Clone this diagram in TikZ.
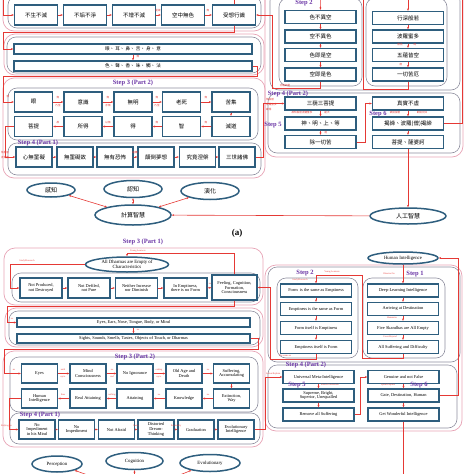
\documentclass[tikz,border=0pt]{standalone}
\usepackage{fontspec}
\setmainfont{Liberation Serif}
\newfontfamily\cjk{Noto Sans CJK TC}
\usetikzlibrary{arrows.meta,shadows,shapes.geometric}
\definecolor{boxblue}{HTML}{2E5E7E}
\definecolor{linkred}{HTML}{E53935}
\definecolor{steppurple}{HTML}{6A35A5}
\definecolor{framegrey}{HTML}{8E8E9E}
\definecolor{framepink}{HTML}{E7A3B5}

\begin{document}
\begin{tikzpicture}
		[x=1pt,y=-1pt,
		box/.style={draw=boxblue,line width=1.4pt,fill=white,inner sep=.5pt,align=center,
			font=\cjk\fontsize{5.5}{6.5}\selectfont,
			drop shadow={shadow xshift=.9pt,shadow yshift=-.9pt,fill=black!50}},
		ebox/.style={box,font=\fontsize{4.4}{4.8}\selectfont},
		wa/.style={minimum width=43,minimum height=20},
		wb/.style={minimum width=38,minimum height=20},
		wc/.style={minimum width=36,minimum height=20},
		wd/.style={minimum width=71,minimum height=13},
		we/.style={minimum width=36,minimum height=19},
		wl/.style={minimum width=238,minimum height=10},
		oval/.style={ellipse,draw=boxblue,line width=1.5pt,fill=white,inner sep=0pt,
			font=\cjk\fontsize{6}{7}\selectfont},
		eoval/.style={oval,align=center,font=\fontsize{4.8}{5.2}\selectfont},
		gframe/.style={draw=framegrey,line width=.6pt,rounded corners=9pt},
		pframe/.style={draw=framepink,line width=.7pt,rounded corners=11pt},
		link/.style={draw=linkred,line width=.6pt,-{Stealth[length=2.4pt,width=2pt]}},
		both/.style={{Stealth[length=2.4pt,width=2pt]}-{Stealth[length=2.4pt,width=2pt]}},
		steplab/.style={text=steppurple,font=\bfseries\fontsize{6.5}{7}\selectfont,inner sep=0pt},
		tag/.style={text=linkred,font=\fontsize{2.4}{2.8}\selectfont,inner sep=0pt},
		ctag/.style={tag,font=\cjk\fontsize{2.6}{3}\selectfont}]
		\useasboundingbox (0,0) rectangle (474,474);
		
		% ---------- (a) frames
		\draw[pframe] (3,-30) rectangle (265,31);
		\draw[gframe] (8,-4) rectangle (261,28);
		\draw[pframe] (4,34) rectangle (264,75);
		\draw[gframe] (7,37) rectangle (261,73);
		\draw[pframe] (3,78) rectangle (265,178);
		\draw[gframe] (8,88) rectangle (258,140);
		\draw[gframe] (8,143) rectangle (261,175);
		\draw[pframe] (265,-30) rectangle (463,157);
		\draw[gframe] (270,-8) rectangle (460,90);
		\draw[gframe] (279,-2) rectangle (362,86);
		\draw[gframe] (366,-2) rectangle (447,86);
		\draw[gframe] (268,93) rectangle (460,153);
		
		% ---------- (a) nodes
		\node[box,wa] (r1) at (36,15) {不生不滅};
		\node[box,wa] (r2) at (85,15) {不垢不淨};
		\node[box,wa] (r3) at (134,15) {不增不減};
		\node[box,wa] (r4) at (183,15) {空中無色};
		\node[box,wa] (r5) at (234,15) {受想行識};
		
		\node[box,wl,font=\cjk\fontsize{4.6}{5}\selectfont] (e1) at (133,49) {眼、 耳、 鼻、 舌、 身、 意};
		\node[box,wl,font=\cjk\fontsize{4.6}{5}\selectfont] (e2) at (133,66) {色、 聲、 香、 味、 觸、 法};
		
		\node[box,wb] (p1) at (33.5,102) {眼};
		\node[box,wb] (p2) at (83,102) {意識};
		\node[box,wb] (p3) at (133,102) {無明};
		\node[box,wb] (p4) at (181.5,102) {老死};
		\node[box,wb] (p5) at (231,102) {苦集};
		\node[box,wb] (q1) at (33.5,126.5) {菩提};
		\node[box,wb] (q2) at (83,126.5) {所得};
		\node[box,wb] (q3) at (133,126.5) {得};
		\node[box,wb] (q4) at (181.5,126.5) {智};
		\node[box,wb] (q5) at (231,126.5) {滅道};
		
		\node[box,wc] (s1) at (34,157) {心無罣礙};
		\node[box,wc] (s2) at (75,157) {無罣礙故};
		\node[box,wc] (s3) at (115,157) {無有恐怖};
		\node[box,wc] (s4) at (156,157) {顛倒夢想};
		\node[box,wc] (s5) at (197.5,157) {究竟涅槃};
		\node[box,wc] (s6) at (237,157) {三世諸佛};
		
		\node[box,wd] (t1) at (320.5,17) {色不異空};
		\node[box,wd] (t2) at (320.5,36.5) {空不異色};
		\node[box,wd] (t3) at (320.5,55) {色即是空};
		\node[box,wd] (t4) at (320.5,74.5) {空即是色};
		\node[box,wd] (u1) at (408,18) {行深般若};
		\node[box,wd] (u2) at (408,36.5) {波羅蜜多};
		\node[box,wd] (u3) at (408,55) {五蘊皆空};
		\node[box,wd] (u4) at (408,74.5) {一切苦厄};
		
		\node[box,wd] (v1) at (320.5,103.5) {三藐三菩提};
		\node[box,wd] (v2) at (320.5,123.5) {神、明、上、等};
		\node[box,wd] (v3) at (320.5,142) {除一切苦};
		\node[box,wd] (w1) at (408,103.5) {真實不虛};
		\node[box,wd] (w2) at (408,123.5) {揭諦、波羅(僧)揭諦};
		\node[box,wd] (w3) at (408,142) {菩提、薩婆訶};
		
		\node[oval,minimum width=48,minimum height=14] (o1) at (51,190) {感知};
		\node[oval,minimum width=58,minimum height=17] (o2) at (133,189) {認知};
		\node[oval,minimum width=58,minimum height=17] (o3) at (210,191) {演化};
		\node[oval,minimum width=76,minimum height=20] (o0) at (133,215) {計算智慧};
		\node[oval,minimum width=76,minimum height=16] (ai) at (408,216) {人工智慧};
		
		\node[steplab] at (304,3) {Step 2};
		\node[steplab] at (133,83) {Step 3 (Part 2)};
		\node[steplab] at (38,143) {Step 4 (Part 1)};
		\node[steplab] at (288,94) {Step 4 (Part 2)};
		\node[steplab] at (273,125) {Step 5};
		\node[steplab] at (378,114) {Step 6};
		\node[font=\bfseries\fontsize{9}{10}\selectfont] at (237,233) {(a)};
		
		% ---------- (a) connectors
		\coordinate (inA) at (3,-20);
		\coordinate (upA) at (234,-20);
		\coordinate (hiA) at (408,-20);
		\coordinate (slA) at (320,-20);
		\coordinate (hiR) at (462,-20);
		\draw[link] (inA) |- (r1);
		\draw[link] (r5.north) -- (upA);
		\draw[link] (r1) -- (r2);
		\draw[link] (r2) -- (r3);
		\draw[link] (r3) -- (r4);
		\draw[link] (r4) -- (r5);
		\draw[link] (r5.south) -- ++(0,7) -| (3,49) -- (e1.west);
		\draw[link] (e1) -- (e2);
		\draw[link] (e2.east) -| (257,76) -- (3,76) |- (p1.west);
		\draw[link] (p1) -- (p2);
		\draw[link] (p2) -- (p3);
		\draw[link] (p3) -- (p4);
		\draw[link] (p4) -- (p5);
		\draw[link] (p5) -- (q5);
		\draw[link] (q5) -- (q4);
		\draw[link] (q4) -- (q3);
		\draw[link] (q3) -- (q2);
		\draw[link] (q2) -- (q1);
		\draw[link] (q1.west) -- (5,126.5) |- (s1.west);
		\draw[link] (s1) -- (s2);
		\draw[link] (s2) -- (s3);
		\draw[link] (s3) -- (s4);
		\draw[link] (s4) -- (s5);
		\draw[link] (s5) -- (s6);
		\draw[link] (s6.east) -- (263,157) |- (v1.west);
		\draw[link] (v1) -- (v2);
		\draw[link] (v2) -- (v3);
		\draw[link] (v3.east) -- (365,142) |- (w1.west);
		\draw[link] (w1) -- (w2);
		\draw[link] (w2) -- (w3);
		\draw[link] (w2.east) -| (hiR);
		\draw[link] (w3) -- (ai);
		\draw[link] (hiA) -- (u1.north);
		\draw[link] (u1) -- (u2);
		\draw[link] (u2) -- (u3);
		\draw[link] (u3) -- (u4);
		\draw[link,-] (u4.south) -- ++(0,8) -| (363,-20);
		\draw[link] (slA) -- (t1.north);
		\draw[link] (t1) -- (t2);
		\draw[link] (t2) -- (t3);
		\draw[link] (t3) -- (t4);
		\draw[link] (t4.south) -- ++(0,7) -| (272,15) -- (r5.east);
		\draw[link] (ai) -- (o0);
		\draw[link,both] (o0) -- (o1);
		\draw[link,both] (o0) -- (o2);
		\draw[link,both] (o0) -- (o3);
		
		\node[ctag] at (158,11) {是故};
		\node[ctag] at (208,11) {無};
		\node[ctag] at (138,57) {無};
		\node[ctag] at (8,97) {無};
		\node[ctag] at (58,98) {無};
		\node[ctag] at (58,106) {乃至};
		\node[ctag] at (108,98) {無};
		\node[ctag] at (108,106) {亦無};
		\node[ctag] at (157,98) {無};
		\node[ctag] at (157,106) {乃至};
		\node[ctag] at (206,98) {無};
		\node[ctag] at (206,123) {無};
		\node[ctag] at (157,123) {無};
		\node[ctag] at (108,123) {以無};
		\node[ctag] at (58,123) {故};
		\node[ctag,anchor=west] at (1,153) {依般若};
		\node[ctag,anchor=west] at (1,158) {波羅蜜};
		\node[ctag] at (135,153) {遠離};
		\node[ctag] at (285,86) {亦復如是};
		\node[ctag] at (400,45) {照見};
		\node[ctag] at (415,45) {時};
		\node[ctag] at (401,65) {度};
		\node[ctag,anchor=west] at (266,100) {依般若};
		\node[ctag,anchor=west] at (266,105) {波羅蜜多};
		\node[ctag,anchor=west] at (266,110) {故得};
		\node[ctag] at (302,113) {故知般若波羅蜜多};
		\node[ctag] at (327,113) {是大};
		\node[ctag] at (326,133) {能};
		\node[ctag] at (395,113) {故說般若};
		\node[ctag] at (422,113) {即說咒曰};
		
		% ---------- (b) frames
		\draw[pframe] (4,248) rectangle (263,305);
		\draw[gframe] (12,273) rectangle (260,302);
		\draw[pframe] (5,308) rectangle (263,347);
		\draw[gframe] (9,311) rectangle (260,345);
		\draw[pframe] (3,351) rectangle (263,447);
		\draw[gframe] (10,357) rectangle (258,412);
		\draw[gframe] (10,413) rectangle (260,444);
		\draw[pframe] (265,265) rectangle (462,431);
		\draw[gframe] (268,267) rectangle (460,362);
		\draw[gframe] (277,278) rectangle (358,358);
		\draw[gframe] (363,278) rectangle (445,358);
		\draw[gframe] (268,365) rectangle (457,428);
		
		% ---------- (b) nodes
		\node[eoval,minimum width=83,minimum height=15] (b0) at (127,264.5) {All Dharmas are Empty of\\Characteristics};
		\node[ebox,minimum width=42,minimum height=20] (b1) at (41,288) {Not Produced,\\not Destroyed};
		\node[ebox,minimum width=42,minimum height=20] (b2) at (89,288) {Not Defiled,\\not Pure};
		\node[ebox,minimum width=42,minimum height=20] (b3) at (136.5,288) {Neither Increase\\nor Diminish};
		\node[ebox,minimum width=43,minimum height=20] (b4) at (185.5,288) {In Emptiness,\\there is no Form};
		\node[ebox,minimum width=45,minimum height=25] (b5) at (234.5,287.5) {Feeling, Cognition,\\Formation,\\Consciousness};
		\node[ebox,minimum width=233,minimum height=9] (f1) at (133.5,322.5) {Eyes, Ears, Nose, Tongue, Body, or Mind};
		\node[ebox,minimum width=233,minimum height=9] (f2) at (133.5,338.5) {Sights, Sounds, Smells, Tastes, Objects of Touch, or Dharmas};
		
		\node[ebox,we] (g1) at (39.5,373.5) {Eyes};
		\node[ebox,we] (g2) at (88,373.5) {Mind\\Consciousness};
		\node[ebox,we] (g3) at (135,373.5) {No Ignorance};
		\node[ebox,we] (g4) at (184,373.5) {Old Age and\\Death};
		\node[ebox,we] (g5) at (231.5,373.5) {Suffering,\\Accumulating};
		\node[ebox,we] (h1) at (39.5,398.5) {Human\\Intelligence};
		\node[ebox,we] (h2) at (88,398.5) {Real Attaining};
		\node[ebox,we] (h3) at (135,398.5) {Attaining};
		\node[ebox,we] (h4) at (184,398.5) {Knowledge};
		\node[ebox,we] (h5) at (231.5,398.5) {Extinction,\\Way};
		
		\node[ebox,we] (k1) at (37,429.5) {No\\Impediment\\in his Mind};
		\node[ebox,we] (k2) at (76.5,429.5) {No\\Impediment};
		\node[ebox,we] (k3) at (116.5,429.5) {Not Afraid};
		\node[ebox,we] (k4) at (156,429.5) {Distorted\\Dream-\\Thinking};
		\node[ebox,we] (k5) at (196,429.5) {Graduation};
		\node[ebox,we] (k6) at (236,429.5) {Evolutionary\\Intelligence};
		
		\node[eoval,minimum width=70,minimum height=12] (hb) at (403,258) {Human Intelligence};
		\node[ebox,wd] (m1) at (316,290.5) {Form ~is the same as Emptiness};
		\node[ebox,wd] (m2) at (316,309) {Emptiness is the same as Form};
		\node[ebox,wd] (m3) at (316,328) {Form itself is Emptiness};
		\node[ebox,wd] (m4) at (316,347) {Emptiness itself is Form};
		\node[ebox,wd] (n1) at (403,290.5) {Deep-Learning Intelligence};
		\node[ebox,wd] (n2) at (403,309) {Arriving at Destination};
		\node[ebox,wd] (n3) at (403,328) {Five Skandhas are All Empty};
		\node[ebox,wd] (n4) at (403,347) {All Suffering and Difficulty};
		
		\node[ebox,wd] (x1) at (318.5,377) {Universal Meta-Intelligence};
		\node[ebox,wd] (x2) at (318.5,395.5) {Supreme, Bright,\\Superior, Unequalled};
		\node[ebox,wd] (x3) at (318.5,414.5) {Remove all Suffering};
		\node[ebox,wd] (z1) at (403.5,377) {Genuine and not False};
		\node[ebox,wd] (z2) at (403.5,395.5) {Gate, Destination, Human};
		\node[ebox,wd] (z3) at (403.5,414.5) {Get Wonderful Intelligence};
		
		\node[eoval,minimum width=50,minimum height=16] (c1) at (57,464) {Perception};
		\node[eoval,minimum width=57,minimum height=17] (c2) at (134.5,461) {Cognition};
		\node[eoval,minimum width=60,minimum height=17] (c3) at (210,463) {Evolutionary};
		
		\node[steplab] at (143,242) {Step 3 (Part 1)};
		\node[steplab] at (135,357) {Step 3 (Part 2)};
		\node[steplab] at (40,415) {Step 4 (Part 1)};
		\node[steplab] at (305,273) {Step 2};
		\node[steplab] at (415,274) {Step 1};
		\node[steplab] at (306,365) {Step 4 (Part 2)};
		\node[steplab] at (297,385) {Step 5};
		\node[steplab] at (419,385) {Step 6};
		
		% ---------- (b) connectors
		\coordinate (cb1) at (96,478);
		\coordinate (cb2) at (134.5,478);
		\coordinate (cb3) at (172,478);
		\coordinate (ab) at (403.5,480);
		\draw[link] (b0.west) -- (10,264.5) |- (b1.west);
		\draw[link] (b5.north) |- (127,253) -- (b0.north);
		\draw[link] (b1) -- (b2);
		\draw[link] (b2) -- (b3);
		\draw[link] (b3) -- (b4);
		\draw[link] (b4) -- (b5);
		\draw[link] (b5.south) -- ++(0,5.5) -| (7,322.5) -- (f1.west);
		\draw[link] (f1) -- (f2);
		\draw[link] (f2.east) -| (258,349) -| (4,373.5) -- (g1.west);
		\draw[link] (g1) -- (g2);
		\draw[link] (g2) -- (g3);
		\draw[link] (g3) -- (g4);
		\draw[link] (g4) -- (g5);
		\draw[link] (g5) -- (h5);
		\draw[link] (h5) -- (h4);
		\draw[link] (h4) -- (h3);
		\draw[link] (h3) -- (h2);
		\draw[link] (h2) -- (h1);
		\draw[link] (h1.west) -- (9,398.5) |- (k1.west);
		\draw[link] (k1) -- (k2);
		\draw[link] (k2) -- (k3);
		\draw[link] (k3) -- (k4);
		\draw[link] (k4) -- (k5);
		\draw[link] (k5) -- (k6);
		\draw[link] (k6.east) -- (265,429.5) |- (x1.west);
		\draw[link] (x1) -- (x2);
		\draw[link] (x2) -- (x3);
		\draw[link] (x3.east) -- (360,414.5) |- (z1.west);
		\draw[link] (z1) -- (z2);
		\draw[link] (z2) -- (z3);
		\draw[link] (z2.east) -- (458,395.5) |- (hb.east);
		\draw[link] (z3.south) -- (ab);
		\draw[link] (hb) -- (n1);
		\draw[link] (n1) -- (n2);
		\draw[link] (n2) -- (n3);
		\draw[link] (n3) -- (n4);
		\draw[link] (n4.south) -- ++(0,4) -| (362,275) -| (m1.north);
		\draw[link] (m1) -- (m2);
		\draw[link] (m2) -- (m3);
		\draw[link] (m3) -- (m4);
		\draw[link] (m4.south) -- ++(0,5) -| (270,287.5) -- (b5.east);
		\draw[link,both] (cb1) -- (c1);
		\draw[link,both] (cb2) -- (c2);
		\draw[link,both] (cb3) -- (c3);
		
		\node[tag] at (27,261) {Study/Research};
		\node[tag,anchor=west] at (130,251) {Young Learners};
		\node[tag] at (210,284) {no};
		\node[tag] at (12,319) {no};
		\node[tag] at (138,330) {no};
		\node[tag] at (14,370) {no};
		\node[tag] at (63,370) {until};
		\node[tag] at (63,377) {up to};
		\node[tag] at (112,370) {no};
		\node[tag] at (112,377) {and};
		\node[tag] at (159,370) {ending};
		\node[tag] at (159,377) {up to};
		\node[tag] at (208,370) {no};
		\node[tag] at (208,395) {no};
		\node[tag] at (159,395) {no};
		\node[tag] at (112,395) {nothing};
		\node[tag] at (63,395) {thus};
		\node[tag,anchor=west] at (1,426) {Relying on};
		\node[tag] at (136,426) {Away};
		\node[tag] at (176,426) {Eventually};
		\node[tag,anchor=west] at (266,374) {Listen/Explain};
		\node[tag] at (332,272) {Young Learners};
		\node[tag] at (300,280) {Study/Research};
		\node[tag] at (389,274) {Observe/Go};
		\node[tag] at (392,318) {Humanize};
		\node[tag] at (390,337) {Cross Beyond};
		\node[tag] at (285,356) {The same as};
		\node[tag,anchor=west] at (321,385) {Know/Understand};
		\node[tag] at (388,385) {Speak/Explain};
		\end{tikzpicture}
\end{document}
